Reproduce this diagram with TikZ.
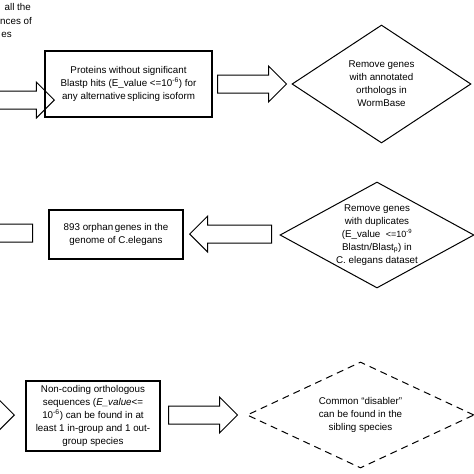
\documentclass[tikz,border=0pt]{standalone}
\usepackage{fontspec}
\setmainfont{Liberation Sans}
\usepackage{tikz}
\usetikzlibrary{shapes.geometric,shapes.arrows}

\begin{document}
\begin{tikzpicture}[
            x=1pt, y=-1pt,
            txt/.style={
                align=center,
                font=\fontsize{9.8}{13}\selectfont
            },
            box/.style={
                draw,
                rectangle,
                line width=1.2pt,
                inner sep=0pt,
                txt
            },
            dia/.style={
                draw,
                diamond,
                line width=1pt,
                inner sep=0pt
            },
            blockarrow/.style={
                draw,
                single arrow,
                line width=1pt,
                minimum width=0pt,
                inner xsep=0pt,
                inner ysep=8.5pt,
                single arrow head extend=9pt,
                single arrow tip angle=90,
                single arrow head indent=0pt
            },
            frag/.style={
                txt,
                inner sep=0pt
            }
        ]
            \useasboundingbox (0,0) rectangle (474,474);
            \clip (0,0) rectangle (474,474);

            % first row
            \node (fragA) [frag, anchor=base east] at (31,10) {all the};
            \node (fragB) [frag, anchor=base east] at (32,24) {nces of};
            \node (fragC) [frag, anchor=base east] at (12,37) {es};
            \node (inTop) [blockarrow, anchor=tip, minimum height=80pt] at (55,100) {};
            \node (prot) [box, minimum width=167pt, minimum height=66pt] at (128.5,84)
                {Proteins without significant\\Blastp hits (E\_value <=10\textsuperscript{-6}) for\\any alternative\,splicing isoform};
            \node (arrTop) [blockarrow, anchor=tail, minimum height=69pt] at (217,84) {};
            \node (orth) [dia, minimum width=179pt, minimum height=118pt,
                label={[txt]center:{Remove genes\\with annotated\\orthologs in\\WormBase}}] at (381.5,84) {};

            % second row
            \node (inMid) [blockarrow, shape border rotate=180, anchor=tail, minimum height=70pt] at (33,233) {};
            \node (orphan) [box, minimum width=134pt, minimum height=49pt] at (116,234.5)
                {893 orphan\,genes in the\\genome of C.elegans};
            \node (arrMid) [blockarrow, shape border rotate=180, anchor=tip, minimum height=82pt] at (189,234) {};
            \node (dup) [dia, minimum width=194pt, minimum height=106pt,
                label={[txt]center:{Remove genes\\with duplicates\\(E\_value \ {\small <=10\textsuperscript{-9}}\\Blastn/Blast\textsubscript{p}) in\\C. elegans dataset}}] at (377,235) {};

            % third row
            \node (inBot) [blockarrow, anchor=tip, minimum height=60pt] at (15,415) {};
            \node (noncod) [box, minimum width=134pt, minimum height=70pt] at (93,416)
                {Non-coding orthologous\\sequences (\textit{E\_value}<=\\10\textsuperscript{-6}) can be found in at\\least 1 in-group and 1 out-\\group species};
            \node (arrBot) [blockarrow, anchor=tail, minimum height=69pt] at (168,415) {};
            \node (disab) [dia, dash pattern=on 7pt off 5pt, minimum width=227pt, minimum height=106pt,
                label={[txt]center:{Common “disabler”\\can be found in the\\sibling species}}] at (360.5,415) {};
        \end{tikzpicture}
\end{document}
